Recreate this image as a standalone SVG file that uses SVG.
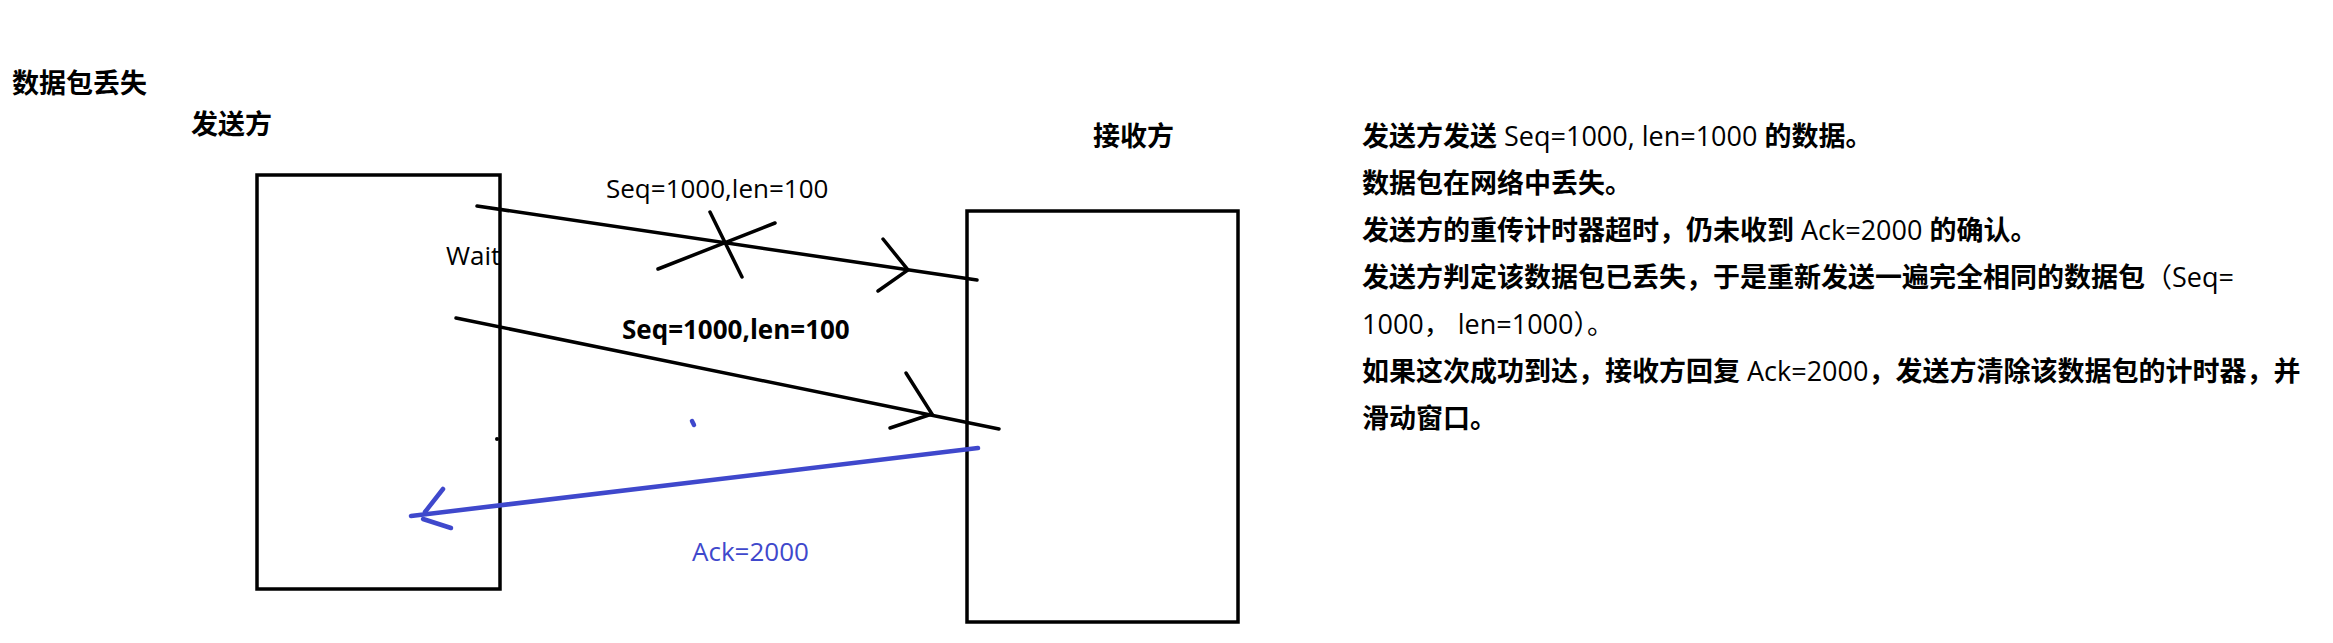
<svg xmlns="http://www.w3.org/2000/svg" width="2333" height="643" viewBox="0 0 2333 643">
  <style>
    .t { font-family: "Open Sans", "Noto Sans CJK SC", sans-serif; font-size: 27px; fill: #000; }
    .lbl { font-family: "Open Sans", "Noto Sans CJK SC", sans-serif; font-size: 26px; fill: #000; }
    .b { font-weight: bold; }
    .box { fill: none; stroke: #000; stroke-width: 3.5; }
    .ln { fill: none; stroke: #000; stroke-width: 3.5; stroke-linecap: round; }
    .blue { fill: none; stroke: #3f48cc; stroke-width: 4.5; stroke-linecap: round; }
    .bt { fill: #3f48cc; }
  </style>
  <rect width="2333" height="643" fill="#fff"/>

  <g id="title">
    <text class="t b" x="12" y="93">数据包丢失</text>
  </g>

  <g id="sender">
    <text class="t b" x="191" y="134">发送方</text>
    <rect class="box" x="257" y="175" width="243" height="414"/>
    <text class="lbl" x="446" y="265">Wait</text>
    <circle cx="497" cy="439" r="2" fill="#000"/>
  </g>

  <g id="receiver">
    <text class="t b" x="1093" y="146">接收方</text>
    <rect class="box" x="967" y="211" width="271" height="411"/>
  </g>

  <g id="connectors">
    <!-- lost packet -->
    <line class="ln" x1="477" y1="206" x2="977" y2="280"/>
    <polyline class="ln" points="883,239 908,270 878,291"/>
    <line class="ln" x1="710" y1="212" x2="742" y2="277"/>
    <line class="ln" x1="775" y1="223" x2="658" y2="269"/>
    <!-- retransmitted packet -->
    <line class="ln" x1="456" y1="318" x2="999" y2="429"/>
    <polyline class="ln" points="906,373 932,414 890,428"/>
    <!-- ack -->
    <line class="blue" x1="978" y1="448" x2="411" y2="516"/>
    <line class="blue" x1="425" y1="512" x2="443" y2="489"/>
    <line class="blue" x1="423" y1="519" x2="451" y2="528"/>
    <line class="blue" x1="692" y1="421" x2="694" y2="425" stroke-width="3"/>
  </g>

  <g id="labels">
    <text class="lbl" x="606" y="198">Seq=1000,len=100</text>
    <text class="lbl b" x="622" y="339">Seq=1000,len=100</text>
    <text class="lbl bt" x="692" y="561" font-size="27">Ack=2000</text>
  </g>

  <g id="notes">
    <text class="t" x="1362" y="146"><tspan class="b">发送方发送</tspan> Seq=1000, len=1000 <tspan class="b">的数据。</tspan></text>
    <text class="t b" x="1362" y="193">数据包在网络中丢失。</text>
    <text class="t" x="1362" y="240"><tspan class="b">发送方的重传计时器超时，仍未收到</tspan> Ack=2000 <tspan class="b">的确认。</tspan></text>
    <text class="t" x="1362" y="287"><tspan class="b">发送方判定该数据包已丢失，于是重新发送一遍完全相同的数据包</tspan>（Seq=</text>
    <text class="t" x="1362" y="334">1000， len=1000）。</text>
    <text class="t" x="1362" y="381"><tspan class="b">如果这次成功到达，接收方回复</tspan> Ack=2000<tspan class="b">，发送方清除该数据包的计时器，并</tspan></text>
    <text class="t b" x="1362" y="428">滑动窗口。</text>
  </g>
</svg>
